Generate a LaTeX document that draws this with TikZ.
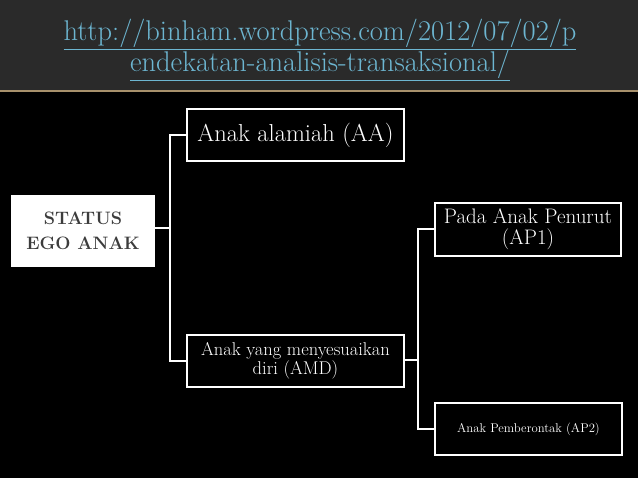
\documentclass[tikz,border=0pt]{standalone}
\definecolor{hdr}{HTML}{2A2A2A}
\definecolor{tan}{HTML}{A8916C}
\definecolor{linkc}{HTML}{6DB6D1}
\definecolor{stat}{HTML}{3C3C3C}
\begin{document}
\begin{tikzpicture}[x=1pt,y=-1pt,
  darkbox/.style={draw=white,line width=2pt,fill=black,text=white,align=center,inner sep=0pt,anchor=north west},
  conn/.style={draw=white,line width=2pt}]
\useasboundingbox (0,0) rectangle (638,478);
\fill[black] (0,0) rectangle (638,478);
\fill[hdr] (0,0) rectangle (638,91);
\draw[tan,line width=1.2pt] (0,91) -- (638,91);
\node[text=linkc,font=\fontsize{28.5}{31}\selectfont,align=center] (title) at (320,50)
  {\underline{http://binham.wordpress.com/2012/07/02/p}\\\underline{endekatan-analisis-transaksional/}};
\node[draw=white,line width=2pt,fill=white,text=stat,font=\fontsize{18}{25}\selectfont\bfseries,align=center,
  minimum width=142pt,minimum height=70pt,inner sep=0pt] (st) at (83,231) {STATUS\\EGO ANAK};
\node[darkbox,minimum width=217pt,minimum height=52pt,font=\fontsize{24.5}{28}\selectfont] (aa) at (186,108) {Anak alamiah (AA)};
\node[darkbox,minimum width=217pt,minimum height=52pt,font=\fontsize{18.5}{17}\selectfont] (amd) at (186,334) {Anak yang menyesuaikan\\diri (AMD)};
\node[darkbox,minimum width=186pt,minimum height=53pt,font=\fontsize{21}{21}\selectfont] (ap1) at (434,202) {Pada Anak Penurut\\(AP1)};
\node[darkbox,minimum width=187pt,minimum height=52pt,font=\fontsize{12.7}{14}\selectfont] (ap2) at (434,402) {Anak Pemberontak (AP2)};
\coordinate (j1) at (170,228);
\coordinate (j2) at (418,360);
\draw[conn] (st.east |- j1) -- (j1);
\draw[conn] (aa.west) -| (j1) |- (amd.west);
\draw[conn] (amd.east |- j2) -- (j2);
\draw[conn] (ap1.west) -| (j2) |- (ap2.west);
\end{tikzpicture}
\end{document}
